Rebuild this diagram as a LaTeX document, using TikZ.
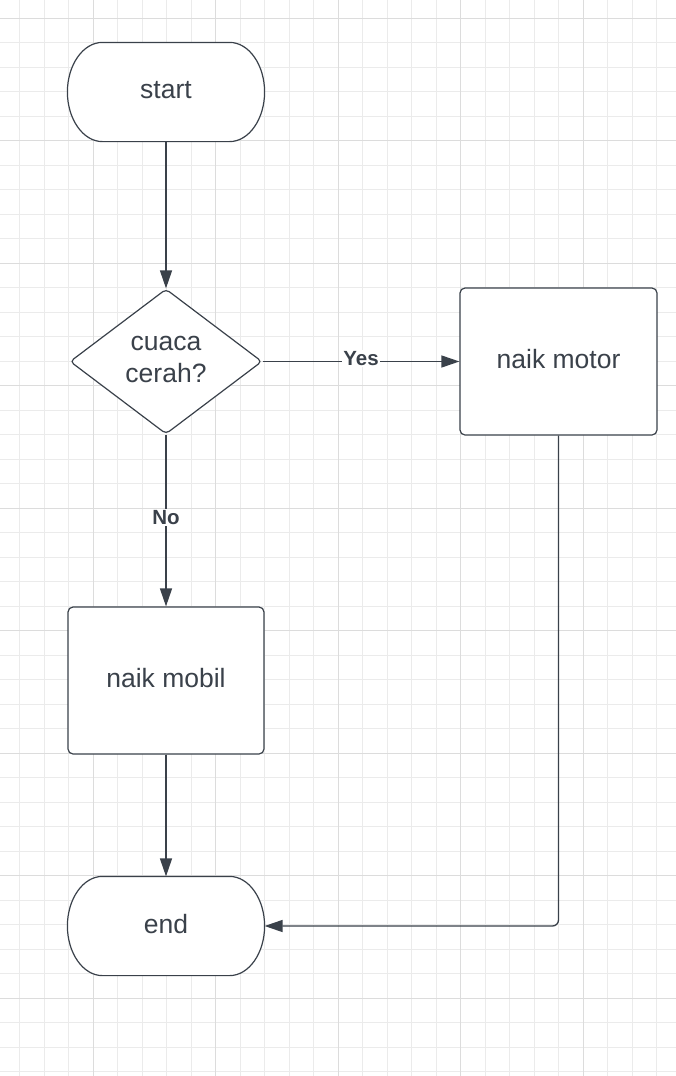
\documentclass[tikz,border=0pt]{standalone}
\usepackage{fontspec}
\setmainfont{Liberation Sans}
\usetikzlibrary{shapes.geometric,arrows.meta}
\definecolor{ink}{HTML}{3A414A}
\definecolor{gridminor}{HTML}{EBEBEB}
\definecolor{gridmajor}{HTML}{DCDCDC}
\pgfdeclarelayer{gridlayer}
\pgfdeclarelayer{shapelayer}
\pgfsetlayers{gridlayer,shapelayer,main}
\tikzset{
  shapebase/.style={draw=ink, line width=1.2pt, fill=white, text=ink, inner sep=0pt,
    font=\fontsize{26.5}{32}\selectfont, align=center, text depth=5pt},
  term/.style={shapebase, draw=none, fill=none, rectangle, minimum width=196pt, minimum height=98pt},
  pill/.style={draw=ink, line width=1.2pt, fill=white},
  proc/.style={shapebase, rectangle, rounded corners=5pt, minimum width=196pt, minimum height=147pt},
  dec/.style={shapebase, diamond, rounded corners=4pt, aspect=1.32, minimum width=192pt, minimum height=145pt},
  arr/.style={draw=ink, line width=1.3pt, -{Triangle[length=18pt,width=12pt]}},
  lbl/.style={fill=white, text=ink, inner sep=1pt, yshift=3pt, font=\fontsize{20.5}{24}\selectfont\bfseries}
}
\begin{document}
\begin{tikzpicture}[x=1pt,y=-1pt]
\useasboundingbox (0,0) rectangle (676,1076);
\begin{pgfonlayer}{gridlayer}
\fill[white] (0,0) rectangle (676,1076);
\foreach \x in {19.5,44,...,670} \draw[gridminor, line width=1pt] (\x,0) -- (\x,1076);
\foreach \y in {18.3,42.8,...,1076} \draw[gridminor, line width=1pt] (0,\y) -- (676,\y);
\foreach \x in {93.3,215.8,338.3,460.8,583.3} \draw[gridmajor, line width=1pt] (\x,0) -- (\x,1076);
\foreach \y in {18.3,140.8,263.3,385.8,508.3,630.8,753.3,875.8,998.3} \draw[gridmajor, line width=1pt] (0,\y) -- (676,\y);
\end{pgfonlayer}

\node[term] (start) at (166,92) {start};
\node[dec] (dec) at (166,361.5) {cuaca\\cerah?};
\node[proc, minimum width=197pt] (motor) at (558.5,361.5) {naik motor};
\node[proc] (mobil) at (166,680.5) {naik mobil};
\node[term] (end) at (166,926) {end};

\begin{pgfonlayer}{shapelayer}
\foreach \n in {start,end} {
  \draw[pill] ([xshift=35pt]\n.north west) -- ([xshift=-35pt]\n.north east)
    .. controls ([xshift=-15.67pt]\n.north east) and ([yshift=27.06pt]\n.east) .. (\n.east)
    .. controls ([yshift=-27.06pt]\n.east) and ([xshift=-15.67pt]\n.south east) .. ([xshift=-35pt]\n.south east)
    -- ([xshift=35pt]\n.south west)
    .. controls ([xshift=15.67pt]\n.south west) and ([yshift=-27.06pt]\n.west) .. (\n.west)
    .. controls ([yshift=27.06pt]\n.west) and ([xshift=15.67pt]\n.north west) .. ([xshift=35pt]\n.north west) -- cycle;
}
\end{pgfonlayer}

\draw[arr] (start) -- (dec);
\draw[arr] (dec) -- node[lbl] {Yes} (motor);
\draw[arr] (dec) -- node[lbl] {No} (mobil);
\draw[arr] (mobil) -- (end);
\draw[arr, rounded corners=6pt] (motor.south) |- (end.east);
\end{tikzpicture}
\end{document}
